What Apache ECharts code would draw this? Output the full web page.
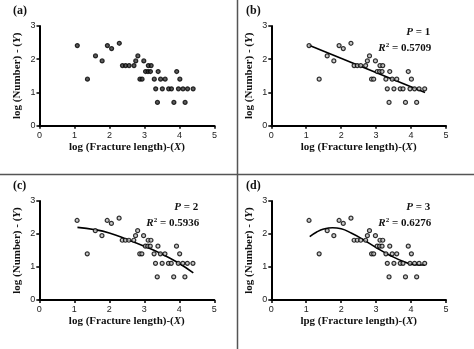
<!DOCTYPE html>
<html><head><meta charset="utf-8">
<script src="https://cdn.jsdelivr.net/npm/echarts@6/dist/echarts.min.js"></script>
<style>html,body{margin:0;padding:0;background:#fff}#c{width:474px;height:349px}</style>
</head><body><div id="c"></div>
<script>
// Observed data (same in all four panels)
const xVals = [1.08,1.37,1.60,1.79,1.94,2.06,2.28,2.37,2.46,2.56,2.70,2.75,2.81,2.87,2.93,2.98,3.03,3.10,3.11,3.17,3.19,3.28,3.32,3.37,3.39,3.46,3.51,3.59,3.69,3.77,3.84,3.92,3.97,4.01,4.10,4.16,4.23,4.39];
const yVals = [2.41,1.40,2.10,1.95,2.41,2.32,2.48,1.81,1.81,1.81,1.81,1.95,2.10,1.40,1.40,1.95,1.63,1.63,1.81,1.63,1.81,1.40,1.11,0.70,1.63,1.40,1.11,1.40,1.11,1.11,0.70,1.63,1.11,1.40,1.11,0.70,1.11,1.11];
// Fitted curves
const fitLinX = [1.08, 4.40];
const fitLinY = [2.42, 1.00];
const fitQuadX = [1.09,1.6,2.0,2.5,3.0,3.45,3.93,4.4];
const fitQuadY = [2.20,2.13,2.03,1.84,1.63,1.42,1.15,0.82];
const fitCubX = [1.1,1.3,1.5,1.75,2.0,2.3,2.6,3.0,3.4,3.8,4.1,4.4];
const fitCubY = [1.92,2.06,2.15,2.19,2.16,2.02,1.85,1.59,1.35,1.16,1.07,1.06];
// Labels
const panelLabels = ['(a)','(b)','(c)','(d)'];
const xTitles = ['log (Fracture length)-','log (Fracture length)-','log (Fracture length)-','lpg (Fracture length)-'];
const yTitle = 'log (Number) - ';
const pTexts = ['', '1', '2', '3'];
const r2Texts = ['', '0.5709', '0.5936', '0.6276'];

const zip = (a,b) => a.map((v,i)=>[v,b[i]]);
const serif = '"Liberation Serif","Times New Roman",serif';
const sans = '"Liberation Sans",Arial,sans-serif';

const grids = [
  {left:39.5, top:26, width:175, height:99.7},
  {left:271.3, top:26, width:174.7, height:99.7},
  {left:39.3, top:201, width:175, height:99},
  {left:271.3, top:201, width:174.7, height:99}
];
const labelPos = [[13,5],[246,5],[13,180],[246,180]];
const fits = [null, [fitLinX,fitLinY,false], [fitQuadX,fitQuadY,true], [fitCubX,fitCubY,true]];

const option = {animation:false, grid:[], xAxis:[], yAxis:[], series:[], graphic:[]};
grids.forEach((g,i)=>{
  option.grid.push(Object.assign({containLabel:false, outerBoundsMode:'none'}, g));
  option.xAxis.push({gridIndex:i, type:'value', min:0, max:5, interval:1,
    splitLine:{show:false},
    axisLine:{lineStyle:{color:'#000', width:2}},
    axisTick:{length:3, lineStyle:{color:'#000', width:1.5}},
    axisLabel:{color:'#222', fontSize:9, fontFamily:sans, margin:5},
    name:'{n|'+xTitles[i]+'(}{it|X}{n|)}', nameLocation:'middle', nameGap:16,
    nameTextStyle:{rich:{n:{fontFamily:serif,fontWeight:'bold',fontSize:11,color:'#111'},
                         it:{fontFamily:serif,fontWeight:'bold',fontStyle:'italic',fontSize:11,color:'#111'}}}
  });
  option.yAxis.push({gridIndex:i, type:'value', min:0, max:3, interval:1,
    splitLine:{show:false},
    axisLine:{lineStyle:{color:'#000', width:2}},
    axisTick:{length:3, lineStyle:{color:'#000', width:1.5}},
    axisLabel:{color:'#222', fontSize:9, fontFamily:sans, margin:4},
    name:'{n|'+yTitle+'(}{it|Y}{n|)}', nameLocation:'middle', nameGap:17,
    nameTextStyle:{rich:{n:{fontFamily:serif,fontWeight:'bold',fontSize:11,color:'#111'},
                         it:{fontFamily:serif,fontWeight:'bold',fontStyle:'italic',fontSize:11,color:'#111'}}}
  });
  option.series.push({type:'scatter', xAxisIndex:i, yAxisIndex:i, data:zip(xVals,yVals),
    symbol:'circle', symbolSize:4, z:3,
    itemStyle:{color:i===0?'#333':'#bbb', borderColor:'#000', borderWidth:1.2}});
  if (fits[i]) {
    option.series.push({type:'line', xAxisIndex:i, yAxisIndex:i, data:zip(fits[i][0],fits[i][1]),
      smooth:fits[i][2], showSymbol:false, symbol:'none', z:2,
      lineStyle:{color:'#000', width:1.6}});
  }
  option.graphic.push({type:'text', left:labelPos[i][0], top:labelPos[i][1],
    style:{text:panelLabels[i], font:'bold 12px '+serif, fill:'#111'}});
  if (pTexts[i]) {
    const rx = g.left + 157;
    option.graphic.push({type:'text', left:rx-22, top:g.top+1,
      style:{text:'{it|P} = '+pTexts[i], fill:'#111', font:'bold 11px '+serif,
        rich:{it:{fontStyle:'italic', fontWeight:'bold', fontSize:11, fontFamily:serif}}}});
    option.graphic.push({type:'text', left:rx-50, top:g.top+16,
      style:{text:'{it|R}{sup|2} = '+r2Texts[i], fill:'#111', font:'bold 11px '+serif,
        rich:{it:{fontStyle:'italic', fontWeight:'bold', fontSize:11, fontFamily:serif},
              sup:{fontWeight:'bold', fontSize:7, fontFamily:serif, verticalAlign:'top', padding:[0,0,5,0]}}}});
  }
});
option.graphic.push({type:'line', shape:{x1:237.5,y1:0,x2:237.5,y2:349}, style:{stroke:'#555', lineWidth:1.5}});
option.graphic.push({type:'line', shape:{x1:0,y1:174.5,x2:474,y2:174.5}, style:{stroke:'#555', lineWidth:1.5}});

const chart = echarts.init(document.getElementById('c'), null, {renderer:'canvas'});
chart.setOption(option);
</script>
</body></html>
